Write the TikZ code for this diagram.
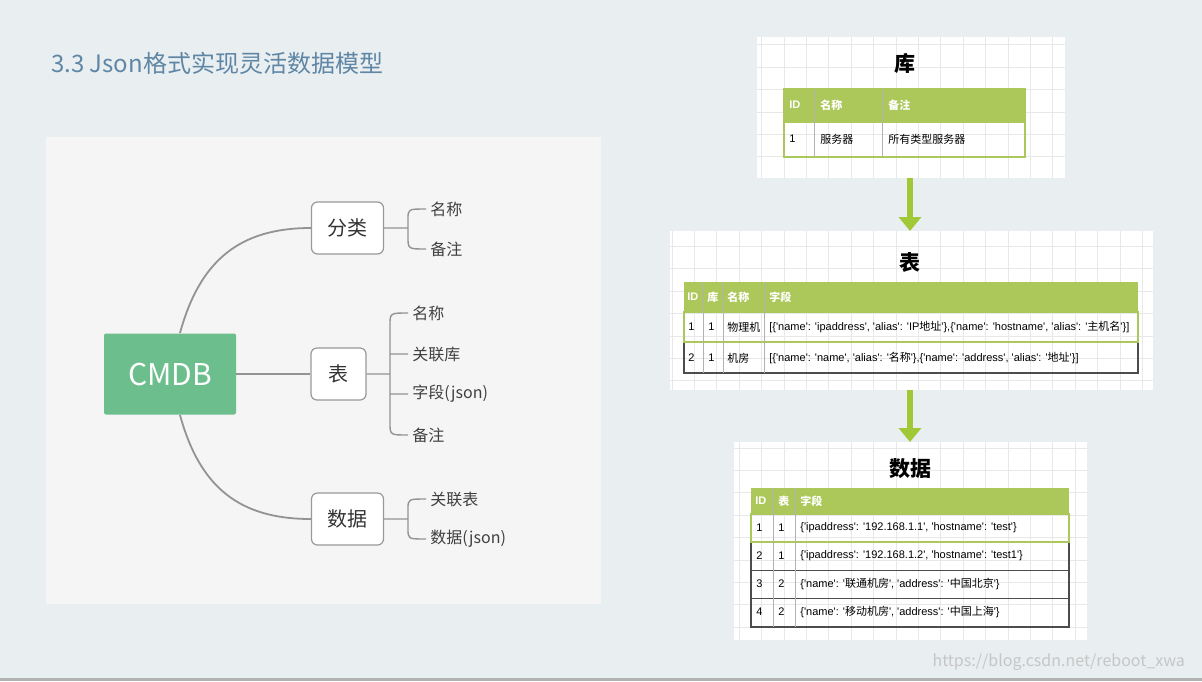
\documentclass[tikz,border=0pt]{standalone}
\usepackage{fontspec}
\setmainfont{Noto Sans CJK SC}
\newfontfamily\lat{Liberation Sans}
\newfontfamily\cjk{Noto Sans CJK SC}
\usetikzlibrary{positioning,arrows.meta,calc}
\definecolor{bgblue}{RGB}{233,238,241}
\definecolor{titleblue}{RGB}{95,135,165}
\definecolor{mapgreen}{RGB}{108,190,140}
\definecolor{tabgreen}{RGB}{172,200,90}
\definecolor{arrgreen}{RGB}{160,200,55}
\tikzset{
  topic/.style={draw=gray!80,rounded corners=3pt,fill=white,line width=0.6pt,font=\fontsize{10}{12}\selectfont,text=black!80},
  leaf/.style={anchor=west,inner sep=0pt,font=\fontsize{8}{10}\selectfont,text=black!75},
  branch/.style={draw=gray!85,line width=0.9pt},
  cell/.style={anchor=west,inner sep=0pt,font=\lat\fontsize{5.5}{7}\selectfont},
  head/.style={cell,text=white,font=\lat\fontsize{5.5}{7}\selectfont\bfseries},
  ptitle/.style={font=\fontsize{10.5}{12}\selectfont\bfseries},
  flow/.style={arrgreen,line width=3pt,-{Triangle[length=7pt,width=11pt]}}
}
\begin{document}
\begin{tikzpicture}[x=0.5pt,y=-0.5pt]
  \useasboundingbox (0,0) rectangle (1202,681);
  \fill[bgblue] (0,0) rectangle (1202,681);
  \draw[gray!60,line width=1.5pt] (0,679) -- (1202,679);
  \node(title) [anchor=west,text=titleblue,font=\fontsize{12}{14}\selectfont] at (44,63) {3.3 Json格式实现灵活数据模型};
  % mind map
  \fill[gray!8] (46,137) rectangle (601,604);
  \node(cmdb) [fill=mapgreen,text=white,minimum width=66pt,minimum height=40.5pt,rounded corners=1pt,font=\fontsize{15}{18}\selectfont] at (170,374) {CMDB};
  \node(fenlei) [topic,minimum width=36pt,minimum height=26pt] at (347.5,228) {分类};
  \node(biao) [topic,minimum width=27.5pt,minimum height=26pt] at (338.5,374) {表};
  \node(shuju) [topic,minimum width=36pt,minimum height=26pt] at (347.5,519) {数据};
  \draw[branch] (180,333) .. controls (200,260) and (240,228) .. (fenlei.west);
  \draw[branch] (cmdb.east) -- (biao.west);
  \draw[branch] (180,415) .. controls (200,488) and (240,519) .. (shuju.west);
  \node(fl1) [leaf] at (430,209) {名称};
  \node(fl2) [leaf] at (430,249) {备注};
  \draw[branch,line width=0.7pt] (fenlei.east) -- (408,228)
    ($(fl1.west)+(-4,0)$) .. controls (408,209) .. (408,219) -- (408,237) .. controls (408,249) .. ($(fl2.west)+(-4,0)$);
  \node(b1) [leaf] at (412,313) {名称};
  \node(b2) [leaf] at (412,354) {关联库};
  \node(b3) [leaf] at (412,394) {字段(json)};
  \node(b4) [leaf] at (412,435) {备注};
  \draw[branch,line width=0.7pt] (biao.east) -- (390,374)
    ($(b1.west)+(-4,0)$) .. controls (390,313) .. (390,325) -- (390,423) .. controls (390,435) .. ($(b4.west)+(-4,0)$)
    (390,354) -- ($(b2.west)+(-4,0)$) (390,394) -- ($(b3.west)+(-4,0)$);
  \node(s1) [leaf] at (430,499) {关联表};
  \node(s2) [leaf] at (430,539) {数据(json)};
  \draw[branch,line width=0.7pt] (shuju.east) -- (408,519)
    ($(s1.west)+(-4,0)$) .. controls (408,499) .. (408,509) -- (408,529) .. controls (408,539) .. ($(s2.west)+(-4,0)$);
  % grid panels
  \foreach \xa/\ya/\xb/\yb/\nm in {757/37/1065/178/pku,670/231/1153/390/pbiao,734/442/1087/640/pshuju}{
    \fill[white] (\xa,\ya) rectangle (\xb,\yb);
    \begin{scope}
      \clip (\xa,\ya) rectangle (\xb,\yb);
      \draw[gray!18,step=11.2pt] (\xa,\ya) grid (\xb,\yb);
    \end{scope}
    \coordinate (\nm n) at ({(\xa+\xb)/2},\ya);
    \coordinate (\nm s) at ({(\xa+\xb)/2},\yb);
  }
  \draw[flow] (910,178) -- (910,231);
  \draw[flow] (910,390) -- (910,442);
  % table ku
  \node(tku) [ptitle] at (905,63) {库};
  \fill[tabgreen] (784,89) rectangle (1025,122);
  \draw[black!70] (784,122) rectangle (1025,157);
  \draw[tabgreen,line width=0.8pt] (784,89) rectangle (1025,157) (784,122) -- (1025,122);
  \draw[gray!60] (814,89) -- (814,157) (882,89) -- (882,157);
  \node[head] at (789,105) {ID}; \node[head] at (820,105) {\cjk 名称}; \node[head] at (888,105) {\cjk 备注};
  \node[cell] at (789,139) {1}; \node[cell] at (820,139) {\cjk 服务器}; \node[cell] at (888,139) {\cjk 所有类型服务器};
  % table biao
  \node(tbiao) [ptitle] at (910,263) {表};
  \fill[tabgreen] (684,282) rectangle (1138,312);
  \draw[black!70,line width=0.7pt] (684,312) rectangle (1138,373);
  \draw[black!70] (684,342) -- (1138,342);
  \draw[tabgreen,line width=0.8pt] (684,312) rectangle (1138,342);
  \draw[gray!60] (703,282) -- (703,373) (723,282) -- (723,373) (764,282) -- (764,373);
  \node[head] at (687,297) {ID}; \node[head] at (707,297) {\cjk 库}; \node[head] at (727,297) {\cjk 名称}; \node[head] at (769,297) {\cjk 字段};
  \node[cell] at (688,327) {1}; \node[cell] at (708,327) {1}; \node[cell] at (727,327) {\cjk 物理机};
  \node[cell] at (769,327) {[\{'name': 'ipaddress', 'alias': 'IP{\cjk 地址}'\},\{'name': 'hostname', 'alias': '{\cjk 主机名}'\}]};
  \node[cell] at (688,358) {2}; \node[cell] at (708,358) {1}; \node[cell] at (727,358) {\cjk 机房};
  \node[cell] at (769,358) {[\{'name': 'name', 'alias': '{\cjk 名称}'\},\{'name': 'address', 'alias': '{\cjk 地址}'\}]};
  % table shuju
  \node(tshuju) [ptitle] at (910,469) {数据};
  \fill[tabgreen] (751,488) rectangle (1069,514);
  \draw[black!70,line width=0.7pt] (751,514) rectangle (1069,627);
  \draw[black!70] (751,570) -- (1069,570) (751,598) -- (1069,598) (751,542) -- (1069,542);
  \draw[tabgreen,line width=0.8pt] (751,514) rectangle (1069,542);
  \draw[gray!60] (773,488) -- (773,627) (795,488) -- (795,627);
  \node[head] at (755,501) {ID}; \node[head] at (778,501) {\cjk 表}; \node[head] at (800,501) {\cjk 字段};
  \foreach \y/\i/\t/\txt in {528/1/1/{\{'ipaddress': '192.168.1.1', 'hostname': 'test'\}},
      556/2/1/{\{'ipaddress': '192.168.1.2', 'hostname': 'test1'\}},
      584/3/2/{\{'name': '{\cjk 联通机房}', 'address': '{\cjk 中国北京}'\}},
      612/4/2/{\{'name': '{\cjk 移动机房}', 'address': '{\cjk 中国上海}'\}}}{
    \node[cell] at (756,\y) {\i}; \node[cell] at (778,\y) {\t}; \node[cell] at (800,\y) {\txt};
  }
  \node(mark) [anchor=east,text=gray!45,font=\fontsize{8}{10}\selectfont] at (1192,662) {https://blog.csdn.net/reboot\_xwa};
\end{tikzpicture}
\end{document}
